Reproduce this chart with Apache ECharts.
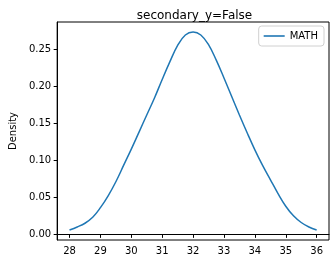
<!DOCTYPE html>
<html>
<head>
<meta charset="utf-8">
<script src="https://cdn.jsdelivr.net/npm/echarts@6/dist/echarts.min.js"></script>
<style>html,body{margin:0;padding:0;background:#fff}#c{width:336px;height:264px}</style>
</head>
<body>
<div id="c"></div>
<script>
var titleText = "secondary_y=False";
var seriesName = "MATH";
var yAxisName = "Density";
var xTicks = [28, 29, 30, 31, 32, 33, 34, 35, 36];
var yTicks = [0, 0.05, 0.10, 0.15, 0.20, 0.25];
var xs = [28.0, 28.25, 28.5, 28.75, 29.0, 29.25, 29.5, 29.75, 30.0, 30.25, 30.5, 30.75, 31.0, 31.25, 31.5, 31.75, 32.0,
          32.25, 32.5, 32.75, 33.0, 33.25, 33.5, 33.75, 34.0, 34.25, 34.5, 34.75, 35.0, 35.25, 35.5, 35.75, 36.0];
var ys = [0.006, 0.010, 0.015, 0.023, 0.036, 0.052, 0.071, 0.093, 0.115, 0.138, 0.161, 0.184, 0.209, 0.233, 0.255, 0.269, 0.273,
          0.269, 0.256, 0.235, 0.211, 0.186, 0.161, 0.137, 0.114, 0.093, 0.074, 0.055, 0.038, 0.025, 0.016, 0.010, 0.006];

var data = xs.map(function (x, i) { return [x, ys[i]]; });
var font = "DejaVu Sans";
var chart = echarts.init(document.getElementById('c'), null, {renderer: 'canvas'});
chart.setOption({
  animation: false,
  backgroundColor: '#fff',
  textStyle: {fontFamily: font},
  title: {
    text: titleText, left: 189.5, top: 5, textAlign: 'center',
    textStyle: {fontFamily: font, fontSize: 12, fontWeight: 'normal', color: '#000'}
  },
  legend: {
    data: [{name: seriesName, icon: 'path://M0,0L21,0L21,1.6L0,1.6Z'}],
    right: 12, top: 26, orient: 'vertical',
    padding: [5, 6, 5, 5], itemWidth: 21, itemHeight: 10, itemGap: 0,
    borderColor: '#d0d0d0', borderWidth: 1, borderRadius: 3,
    itemStyle: {color: '#1f77b4', borderWidth: 0},
    textStyle: {fontFamily: font, fontSize: 10, color: '#000'}
  },
  grid: {left: 50, top: 22, right: 7, bottom: 24, show: true, borderColor: '#000', borderWidth: 1, containLabel: false},
  xAxis: {
    type: 'value', min: 27.6, max: 36.4,
    splitLine: {show: false},
    axisLine: {show: true, lineStyle: {color: '#000', width: 1}},
    axisTick: {show: true, length: 3.5, lineStyle: {color: '#000'}, customValues: xTicks},
    axisLabel: {customValues: xTicks, fontFamily: font, fontSize: 10, color: '#000', margin: 6},
    axisPointer: {show: false}
  },
  yAxis: {
    type: 'value', min: -0.0076, max: 0.2865,
    name: yAxisName, nameLocation: 'middle', nameGap: 38, nameRotate: 90,
    nameTextStyle: {fontFamily: font, fontSize: 10, color: '#000'},
    splitLine: {show: false},
    axisLine: {show: true, lineStyle: {color: '#000', width: 1}},
    axisTick: {show: true, length: 3.5, lineStyle: {color: '#000'}, customValues: yTicks},
    axisLabel: {customValues: yTicks, fontFamily: font, fontSize: 10, color: '#000', margin: 6,
      formatter: function (v) { return v.toFixed(2); }}
  },
  series: [{
    name: seriesName, type: 'line', data: data, smooth: 0.4, symbol: 'none',
    lineStyle: {color: '#1f77b4', width: 1.5}, itemStyle: {color: '#1f77b4'}
  }]
});
</script>
</body>
</html>
